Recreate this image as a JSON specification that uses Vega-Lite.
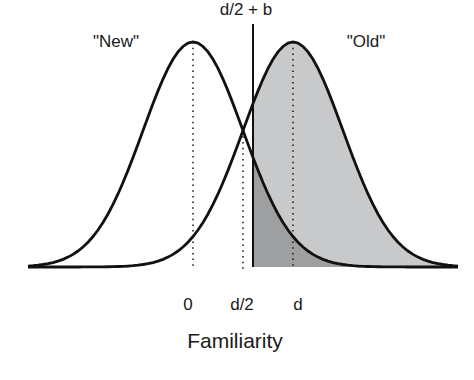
{
  "$schema": "https://vega.github.io/schema/vega-lite/v6.json",
  "width": 430,
  "height": 243,
  "autosize": {"type": "none"},
  "padding": {"left": 28, "top": 24, "right": 16, "bottom": 113},
  "background": "white",
  "config": {"view": {"stroke": null}, "font": "Liberation Sans"},
  "datasets": {
    "curves": [
      {"x": -3.3, "n": 0.00432, "o": 0},
      {"x": -3.2, "n": 0.00598, "o": 0},
      {"x": -3.1, "n": 0.00819, "o": 0},
      {"x": -3.0, "n": 0.01111, "o": 0},
      {"x": -2.9, "n": 0.01492, "o": 0.00001},
      {"x": -2.8, "n": 0.01984, "o": 0.00001},
      {"x": -2.7, "n": 0.02612, "o": 0.00002},
      {"x": -2.6, "n": 0.03405, "o": 0.00003},
      {"x": -2.5, "n": 0.04394, "o": 0.00004},
      {"x": -2.4, "n": 0.05613, "o": 0.00006},
      {"x": -2.3, "n": 0.071, "o": 0.0001},
      {"x": -2.2, "n": 0.08892, "o": 0.00015},
      {"x": -2.1, "n": 0.11025, "o": 0.00022},
      {"x": -2.0, "n": 0.13534, "o": 0.00034},
      {"x": -1.9, "n": 0.16447, "o": 0.0005},
      {"x": -1.8, "n": 0.1979, "o": 0.00073},
      {"x": -1.7, "n": 0.23574, "o": 0.00106},
      {"x": -1.6, "n": 0.27804, "o": 0.00153},
      {"x": -1.5, "n": 0.32465, "o": 0.00219},
      {"x": -1.4, "n": 0.37531, "o": 0.00309},
      {"x": -1.3, "n": 0.42956, "o": 0.00432},
      {"x": -1.2, "n": 0.48675, "o": 0.00598},
      {"x": -1.1, "n": 0.54607, "o": 0.00819},
      {"x": -1.0, "n": 0.60653, "o": 0.01111},
      {"x": -0.9, "n": 0.66698, "o": 0.01492},
      {"x": -0.8, "n": 0.72615, "o": 0.01984},
      {"x": -0.7, "n": 0.7827, "o": 0.02612},
      {"x": -0.6, "n": 0.83527, "o": 0.03405},
      {"x": -0.5, "n": 0.8825, "o": 0.04394},
      {"x": -0.4, "n": 0.92312, "o": 0.05613},
      {"x": -0.3, "n": 0.956, "o": 0.071},
      {"x": -0.2, "n": 0.9802, "o": 0.08892},
      {"x": -0.1, "n": 0.99501, "o": 0.11025},
      {"x": 0.0, "n": 1, "o": 0.13534},
      {"x": 0.1, "n": 0.99501, "o": 0.16447},
      {"x": 0.2, "n": 0.9802, "o": 0.1979},
      {"x": 0.3, "n": 0.956, "o": 0.23574},
      {"x": 0.4, "n": 0.92312, "o": 0.27804},
      {"x": 0.5, "n": 0.8825, "o": 0.32465},
      {"x": 0.6, "n": 0.83527, "o": 0.37531},
      {"x": 0.7, "n": 0.7827, "o": 0.42956},
      {"x": 0.8, "n": 0.72615, "o": 0.48675},
      {"x": 0.9, "n": 0.66698, "o": 0.54607},
      {"x": 1.0, "n": 0.60653, "o": 0.60653},
      {"x": 1.1, "n": 0.54607, "o": 0.66698},
      {"x": 1.2, "n": 0.48675, "o": 0.72615},
      {"x": 1.3, "n": 0.42956, "o": 0.7827},
      {"x": 1.4, "n": 0.37531, "o": 0.83527},
      {"x": 1.5, "n": 0.32465, "o": 0.8825},
      {"x": 1.6, "n": 0.27804, "o": 0.92312},
      {"x": 1.7, "n": 0.23574, "o": 0.956},
      {"x": 1.8, "n": 0.1979, "o": 0.9802},
      {"x": 1.9, "n": 0.16447, "o": 0.99501},
      {"x": 2.0, "n": 0.13534, "o": 1},
      {"x": 2.1, "n": 0.11025, "o": 0.99501},
      {"x": 2.2, "n": 0.08892, "o": 0.9802},
      {"x": 2.3, "n": 0.071, "o": 0.956},
      {"x": 2.4, "n": 0.05613, "o": 0.92312},
      {"x": 2.5, "n": 0.04394, "o": 0.8825},
      {"x": 2.6, "n": 0.03405, "o": 0.83527},
      {"x": 2.7, "n": 0.02612, "o": 0.7827},
      {"x": 2.8, "n": 0.01984, "o": 0.72615},
      {"x": 2.9, "n": 0.01492, "o": 0.66698},
      {"x": 3.0, "n": 0.01111, "o": 0.60653},
      {"x": 3.1, "n": 0.00819, "o": 0.54607},
      {"x": 3.2, "n": 0.00598, "o": 0.48675},
      {"x": 3.3, "n": 0.00432, "o": 0.42956},
      {"x": 3.4, "n": 0.00309, "o": 0.37531},
      {"x": 3.5, "n": 0.00219, "o": 0.32465},
      {"x": 3.6, "n": 0.00153, "o": 0.27804},
      {"x": 3.7, "n": 0.00106, "o": 0.23574},
      {"x": 3.8, "n": 0.00073, "o": 0.1979},
      {"x": 3.9, "n": 0.0005, "o": 0.16447},
      {"x": 4.0, "n": 0.00034, "o": 0.13534},
      {"x": 4.1, "n": 0.00022, "o": 0.11025},
      {"x": 4.2, "n": 0.00015, "o": 0.08892},
      {"x": 4.3, "n": 0.0001, "o": 0.071},
      {"x": 4.4, "n": 0.00006, "o": 0.05613},
      {"x": 4.5, "n": 0.00004, "o": 0.04394},
      {"x": 4.6, "n": 0.00003, "o": 0.03405},
      {"x": 4.7, "n": 0.00002, "o": 0.02612},
      {"x": 4.8, "n": 0.00001, "o": 0.01984},
      {"x": 4.9, "n": 0.00001, "o": 0.01492},
      {"x": 5.0, "n": 0, "o": 0.01111},
      {"x": 5.1, "n": 0, "o": 0.00819},
      {"x": 5.2, "n": 0, "o": 0.00598},
      {"x": 5.3, "n": 0, "o": 0.00432}
    ],
    "refs": [
      {"x": 0, "top": 1, "bottom": -0.01},
      {"x": 1, "top": 0.60653, "bottom": -0.01},
      {"x": 2, "top": 1, "bottom": -0.01}
    ],
    "criterion": [{"x": 1.2, "top": 1.08, "bottom": 0}],
    "labels": [
      {"label": "d/2 + b", "x": 1.06, "y": 1.142},
      {"label": "\"New\"", "x": -1.54, "y": 1.0},
      {"label": "\"Old\"", "x": 3.46, "y": 1.0},
      {"label": "0", "x": -0.1, "y": -0.169},
      {"label": "d/2", "x": 0.98, "y": -0.169},
      {"label": "d", "x": 2.1, "y": -0.169}
    ],
    "title": [{"label": "Familiarity", "x": 0.84, "y": -0.333}]
  },
  "layer": [
    {
      "data": {"name": "curves"},
      "transform": [{"filter": "datum.x >= 1.2"}],
      "mark": {"type": "area", "color": "#c8c9cb", "clip": false},
      "encoding": {
        "x": {"field": "x", "type": "quantitative", "scale": {"domain": [-3.3, 5.3], "nice": false, "zero": false}, "axis": null},
        "y": {"field": "o", "type": "quantitative", "scale": {"domain": [0, 1.08], "nice": false}, "axis": null}
      }
    },
    {
      "data": {"name": "curves"},
      "transform": [{"filter": "datum.x >= 1.2"}],
      "mark": {"type": "area", "color": "#9e9fa1", "clip": false},
      "encoding": {
        "x": {"field": "x", "type": "quantitative"},
        "y": {"field": "n", "type": "quantitative"}
      }
    },
    {
      "data": {"name": "refs"},
      "mark": {"type": "rule", "color": "#222222", "strokeWidth": 1.6, "strokeDash": [1.5, 4.2]},
      "encoding": {
        "x": {"field": "x", "type": "quantitative"},
        "y": {"field": "top", "type": "quantitative"},
        "y2": {"field": "bottom"}
      }
    },
    {
      "data": {"name": "criterion"},
      "mark": {"type": "rule", "color": "#111111", "strokeWidth": 2},
      "encoding": {
        "x": {"field": "x", "type": "quantitative"},
        "y": {"field": "top", "type": "quantitative"},
        "y2": {"field": "bottom"}
      }
    },
    {
      "data": {"name": "curves"},
      "mark": {"type": "line", "color": "#111111", "strokeWidth": 2.8, "clip": false},
      "encoding": {
        "x": {"field": "x", "type": "quantitative"},
        "y": {"field": "n", "type": "quantitative"}
      }
    },
    {
      "data": {"name": "curves"},
      "mark": {"type": "line", "color": "#111111", "strokeWidth": 2.8, "clip": false},
      "encoding": {
        "x": {"field": "x", "type": "quantitative"},
        "y": {"field": "o", "type": "quantitative"}
      }
    },
    {
      "data": {"name": "labels"},
      "mark": {"type": "text", "fontSize": 17, "color": "#1a1a1a", "baseline": "middle", "align": "center", "font": "Liberation Sans"},
      "encoding": {
        "x": {"field": "x", "type": "quantitative"},
        "y": {"field": "y", "type": "quantitative"},
        "text": {"field": "label"}
      }
    },
    {
      "data": {"name": "title"},
      "mark": {"type": "text", "fontSize": 21, "color": "#1a1a1a", "baseline": "middle", "align": "center", "font": "Liberation Sans"},
      "encoding": {
        "x": {"field": "x", "type": "quantitative"},
        "y": {"field": "y", "type": "quantitative"},
        "text": {"field": "label"}
      }
    }
  ]
}
